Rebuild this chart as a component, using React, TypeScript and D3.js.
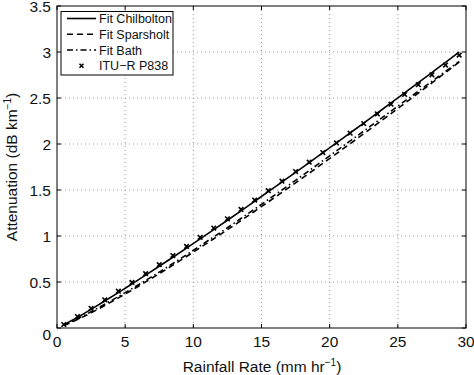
import React from "react";
import * as d3 from "d3";

const rainRates = [0.5,1.5,2.5,3.5,4.5,5.5,6.5,7.5,8.5,9.5,10.5,11.5,12.5,13.5,14.5,15.5,16.5,17.5,18.5,19.5,20.5,21.5,22.5,23.5,24.5,25.5,26.5,27.5,28.5,29.5];
const chilbolton = [0.035,0.115,0.203,0.293,0.385,0.479,0.574,0.671,0.769,0.868,0.968,1.069,1.171,1.274,1.378,1.482,1.587,1.692,1.798,1.905,2.012,2.120,2.228,2.337,2.446,2.556,2.666,2.777,2.888,3.0];
const sparsholt = [0.026,0.092,0.165,0.244,0.327,0.412,0.501,0.591,0.683,0.777,0.873,0.970,1.068,1.168,1.269,1.371,1.474,1.578,1.683,1.789,1.895,2.003,2.112,2.221,2.331,2.441,2.552,2.664,2.777,2.890];
const bath = [0.03,0.10,0.177,0.258,0.342,0.428,0.517,0.608,0.701,0.796,0.893,0.991,1.090,1.191,1.293,1.396,1.500,1.605,1.711,1.818,1.925,2.033,2.141,2.249,2.357,2.465,2.573,2.681,2.789,2.897];
const ituP838 = [0.038,0.124,0.214,0.306,0.400,0.495,0.591,0.689,0.787,0.886,0.986,1.086,1.187,1.289,1.391,1.493,1.596,1.700,1.803,1.907,2.012,2.117,2.222,2.327,2.433,2.539,2.645,2.752,2.858,2.966];
const xTicks = [0,5,10,15,20,25,30];
const yTicks = [0,0.5,1,1.5,2,2.5,3,3.5];
const legendLabels = ["Fit Chilbolton","Fit Sparsholt","Fit Bath","ITU\u2212R P838"];

const L = 57, R = 466, T = 6, B = 328;
const FONT = "'Liberation Sans', Arial, Helvetica, sans-serif";

export default function App() {
  const x = d3.scaleLinear().domain([0, 30]).range([L, R]);
  const y = d3.scaleLinear().domain([0, 3.5]).range([B, T]);
  const line = (vals: number[]) =>
    d3.line<number>().x((_, i) => x(rainRates[i])).y((v) => y(v)).curve(d3.curveMonotoneX)(vals) || "";

  const dashes: (string | undefined)[] = [undefined, "6,4", "6,3,1.5,3"];
  const series = [chilbolton, sparsholt, bath];
  const xMark = (cx: number, cy: number, s: number) =>
    `M${cx - s},${cy - s}L${cx + s},${cy + s}M${cx - s},${cy + s}L${cx + s},${cy - s}`;

  const legendRows = [18.5, 34.3, 50, 65.8];

  return (
    <svg width={474} height={375} style={{ position: "absolute", left: 0, top: 0, background: "#fff" }} fontFamily={FONT}>
      <rect x={0} y={0} width={474} height={375} fill="#fff" />
      {xTicks.slice(1, -1).map((t) => (
        <line key={"gx" + t} x1={x(t)} x2={x(t)} y1={T} y2={B} stroke="#999" strokeWidth={1} strokeDasharray="1,3" />
      ))}
      {yTicks.slice(1, -1).map((t) => (
        <line key={"gy" + t} x1={L} x2={R} y1={y(t)} y2={y(t)} stroke="#999" strokeWidth={1} strokeDasharray="1,3" />
      ))}
      {xTicks.map((t) => (
        <g key={"tx" + t}>
          <line x1={x(t)} x2={x(t)} y1={B} y2={B - 4} stroke="#000" />
          <line x1={x(t)} x2={x(t)} y1={T} y2={T + 4} stroke="#000" />
          <text x={x(t)} y={347} fontSize={15.5} textAnchor="middle" fill="#111">{t}</text>
        </g>
      ))}
      {yTicks.map((t) => (
        <g key={"ty" + t}>
          <line x1={L} x2={L + 4} y1={y(t)} y2={y(t)} stroke="#000" />
          <line x1={R} x2={R - 4} y1={y(t)} y2={y(t)} stroke="#000" />
          <text x={51} y={t === 0 ? 340 : y(t) + 6} fontSize={15.5} textAnchor="end" fill="#111">{t}</text>
        </g>
      ))}
      {series.map((s, i) => (
        <path key={"s" + i} d={line(s)} fill="none" stroke="#000" strokeWidth={1.6} strokeDasharray={dashes[i]} />
      ))}
      {ituP838.map((v, i) => (
        <path key={"m" + i} d={xMark(x(rainRates[i]), y(v), 2.3)} stroke="#000" strokeWidth={1.6} fill="none" />
      ))}
      <rect x={L} y={T} width={R - L} height={B - T} fill="none" stroke="#000" strokeWidth={1} />
      <rect x={61} y={11.5} width={112} height={63.5} fill="#fff" stroke="#000" strokeWidth={1} />
      {legendLabels.map((lab, i) => (
        <g key={"lg" + i}>
          {i < 3 ? (
            <line x1={67} x2={96} y1={legendRows[i]} y2={legendRows[i]} stroke="#000" strokeWidth={1.6} strokeDasharray={dashes[i]} />
          ) : (
            <path d={xMark(81.5, legendRows[i], 2)} stroke="#000" strokeWidth={1.6} fill="none" />
          )}
          <text x={99} y={legendRows[i] + 4.5} fontSize={12.5} fill="#111">{lab}</text>
        </g>
      ))}
      <text x={262} y={372} fontSize={15.5} textAnchor="middle" fill="#111">
        Rainfall Rate (mm hr<tspan dy={-6} fontSize={10}>{"\u22121"}</tspan><tspan dy={6}>)</tspan>
      </text>
      <text transform={`translate(17,${(T + B) / 2}) rotate(-90)`} fontSize={15.5} textAnchor="middle" fill="#111">
        Attenuation (dB km<tspan dy={-6} fontSize={10}>{"\u22121"}</tspan><tspan dy={6}>)</tspan>
      </text>
    </svg>
  );
}
